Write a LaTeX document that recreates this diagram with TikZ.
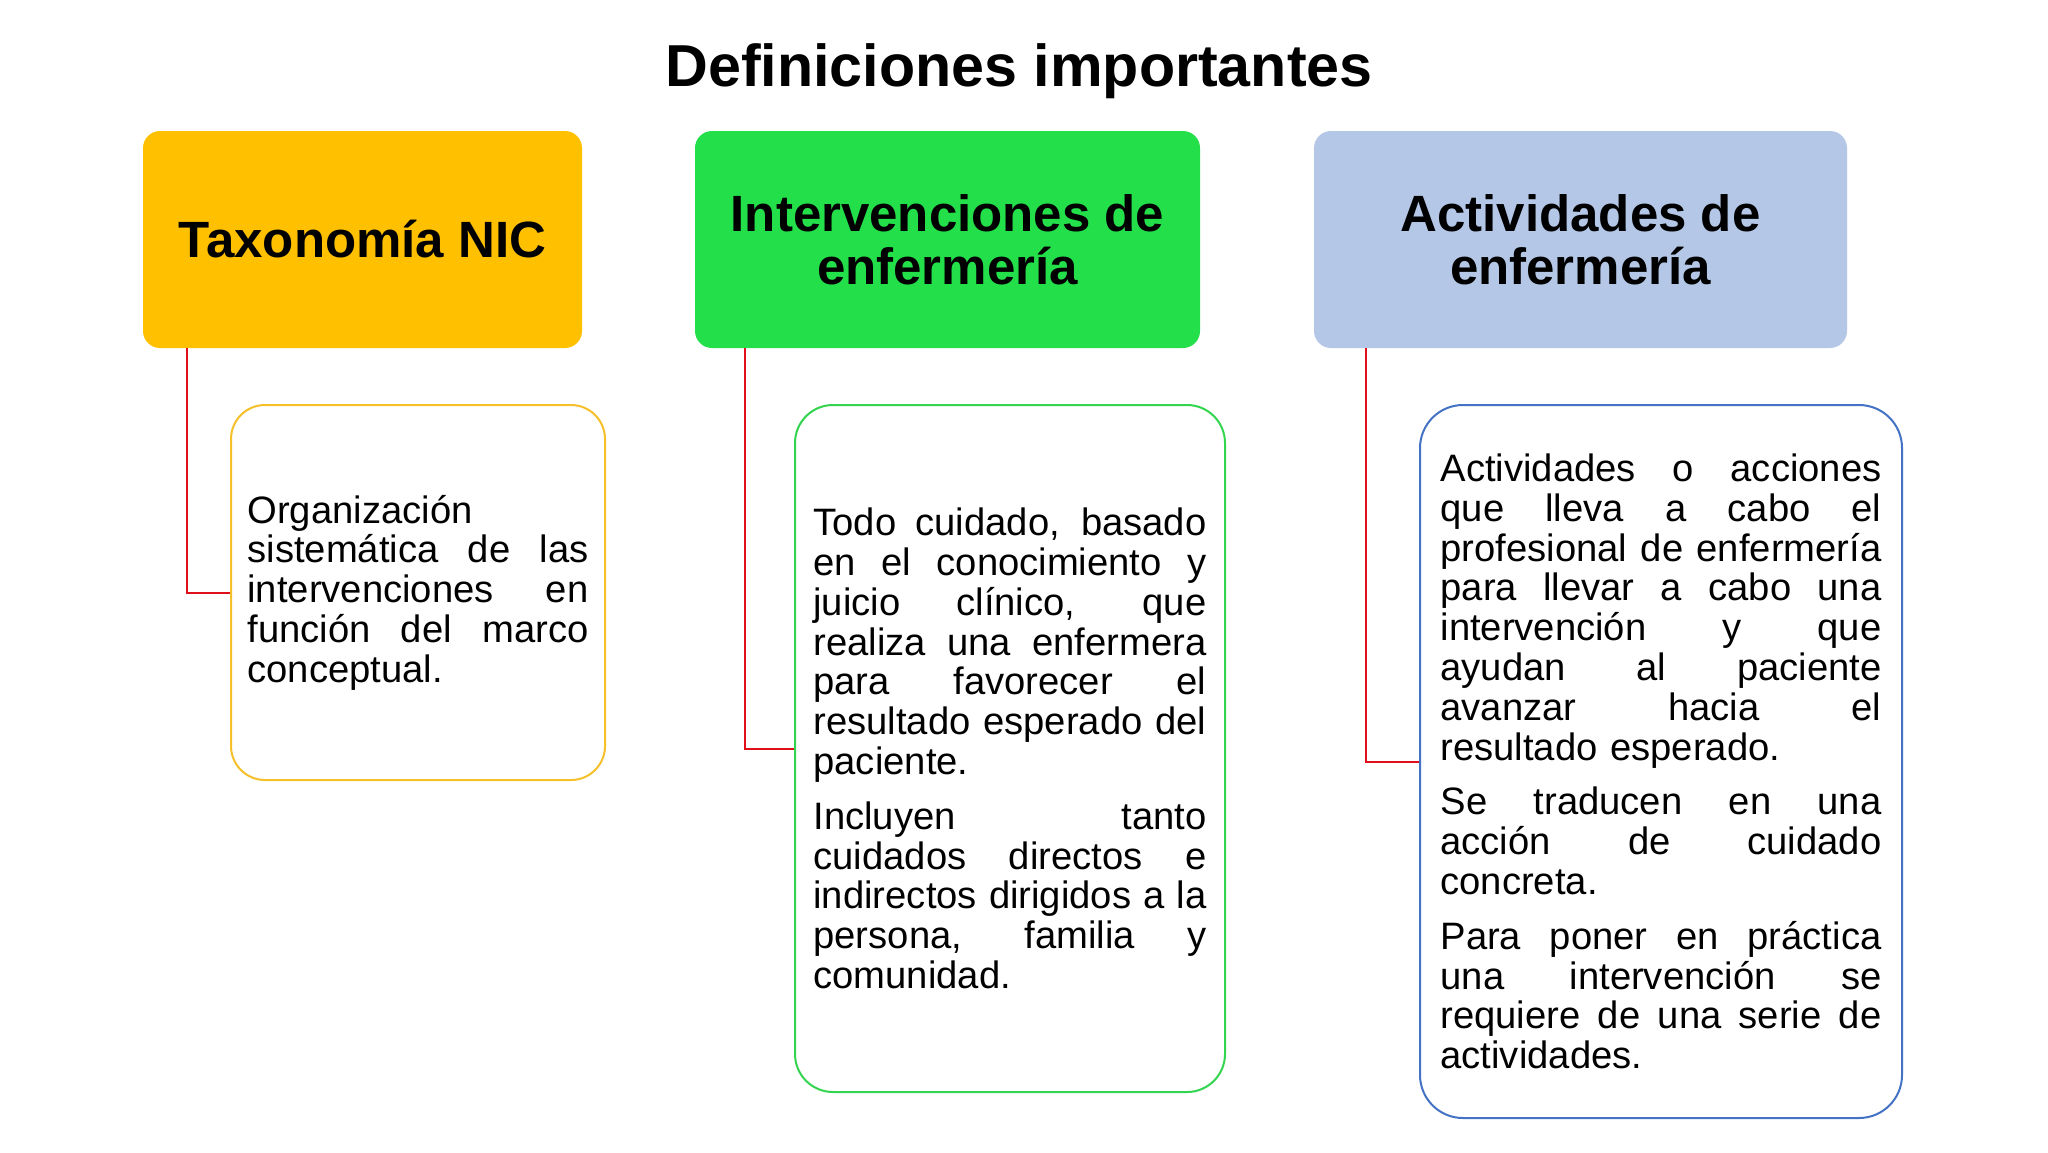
\documentclass[tikz,border=0pt]{standalone}
\usepackage{fontspec}
\setmainfont{Liberation Sans}
\definecolor{hyellow}{HTML}{FFC000}
\definecolor{hgreen}{HTML}{23E04A}
\definecolor{hblue}{HTML}{B4C7E7}
\definecolor{byellow}{HTML}{F5C02A}
\definecolor{bgreen}{HTML}{33D44F}
\definecolor{bblue}{HTML}{4472C4}
\definecolor{cred}{HTML}{E0101A}
\newlength\jw
\newcommand\jline[1]{\hbox to\jw{\spaceskip=\fontdimen2\font plus 1fil\xspaceskip=\spaceskip #1}}
\newcommand\lline[1]{\hbox{#1}}
\newcommand\pgap{\vskip 7.5pt}
\tikzset{
  head/.style={rounded corners=8.5pt, minimum height=108.5pt, align=center,
    font=\fontsize{25.5}{26.5}\selectfont\bfseries, inner sep=0pt},
  desc/.style={draw, line width=1pt, fill=white, text width=#1, align=left,
    font=\fontsize{19.1}{19.9}\selectfont, inner ysep=0pt},
  conn/.style={draw=cred, line width=1pt},
}
\begin{document}
\begin{tikzpicture}[x=0.5pt,y=-0.5pt]
\useasboundingbox[fill=white] (0,0) rectangle (2048,1152);
\node[font=\fontsize{29.6}{31}\selectfont\bfseries] (title) at (1019,71) {Definiciones importantes};

\node[head, fill=hyellow, minimum width=219.5pt] (h1) at (362.5,239.5) {Taxonomía NIC};
\node[head, fill=hgreen, minimum width=252.5pt] (h2) at (947.5,239.5) {Intervenciones de\\enfermería};
\node[head, fill=hblue, minimum width=266.5pt] (h3) at (1580.5,239.5) {Actividades de\\enfermería};

\node[desc=170.5pt, draw=byellow, rounded corners=17pt, minimum width=187pt, minimum height=187.5pt, inner xsep=8.25pt] (d1) at (418,592.5) {%
\setlength\jw{170.5pt}%
\lline{Organización}
\jline{sistemática de las}
\jline{intervenciones en}
\jline{función del marco}
\lline{conceptual.}};

\node[desc=196.5pt, draw=bgreen, rounded corners=19pt, minimum width=215pt, minimum height=343.5pt, inner xsep=9.25pt] (d2) at (1010,748.5) {%
\setlength\jw{196.5pt}%
\jline{Todo cuidado, basado}
\jline{en el conocimiento y}
\jline{juicio clínico, que}
\jline{realiza una enfermera}
\jline{para favorecer el}
\jline{resultado esperado del}
\lline{paciente.}
\pgap
\jline{Incluyen tanto}
\jline{cuidados directos e}
\jline{indirectos dirigidos a la}
\jline{persona, familia y}
\lline{comunidad.}};

\node[desc=220.5pt, draw=bblue, rounded corners=21.5pt, minimum width=241pt, minimum height=356.5pt, inner xsep=10.25pt] (d3) at (1661,761.5) {%
\setlength\jw{220.5pt}%
\jline{Actividades o acciones}
\jline{que lleva a cabo el}
\jline{profesional de enfermería}
\jline{para llevar a cabo una}
\jline{intervención y que}
\jline{ayudan al paciente}
\jline{avanzar hacia el}
\lline{resultado esperado.}
\pgap
\jline{Se traducen en una}
\jline{acción de cuidado}
\lline{concreta.}
\pgap
\jline{Para poner en práctica}
\jline{una intervención se}
\jline{requiere de una serie de}
\lline{actividades.}};

\coordinate (c1) at (187,0);
\coordinate (c2) at (744.5,0);
\coordinate (c3) at (1366,0);
\draw[conn] (h1.south -| c1) |- (d1.west);
\draw[conn] (h2.south -| c2) |- (d2.west);
\draw[conn] (h3.south -| c3) |- (d3.west);
\end{tikzpicture}
\end{document}
